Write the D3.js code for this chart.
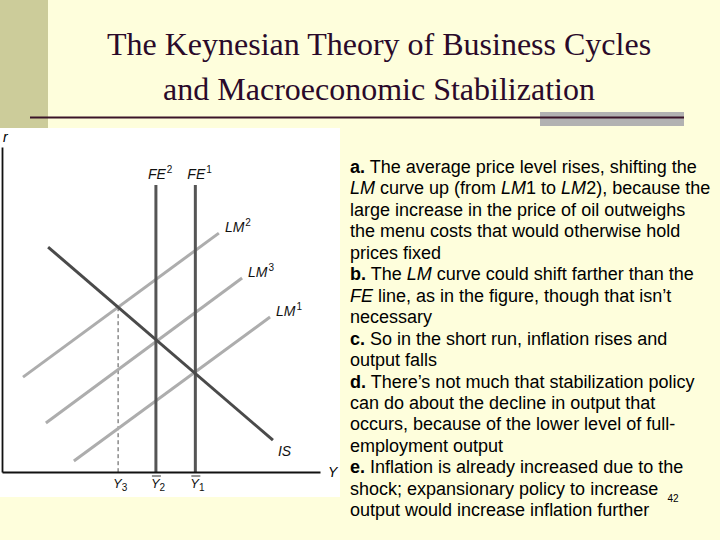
<!DOCTYPE html>
<html>
<head>
<meta charset="utf-8">
<script src="https://cdn.jsdelivr.net/npm/d3@7"></script>
<style>
  html, body { margin: 0; padding: 0; background: #fefedc; }
  svg { display: block; }
</style>
</head>
<body>
<div id="slide"></div>
<script>
// ---- data (diagram units 0..100) ----
const titleLines = ["The Keynesian Theory of Business Cycles", "and Macroeconomic Stabilization"];

// curves: [Y, r] end points
const isCurve = [[14.5, 69.2], [85.2, 9.8]];
const lmCurves = [
    { name: "LM", sup: "1", pts: [[22.6, 3.4], [84.3, 47.7]] },
    { name: "LM", sup: "2", pts: [[6.6, 29.2], [68.2, 73.5]] },
    { name: "LM", sup: "3", pts: [[13.8, 15.1], [75.5, 59.7]] }
];
const feLines = [
    { name: "FE", sup: "1", y: 60.8 },
    { name: "FE", sup: "2", y: 48.4 }
];
const feTop = 88.3;
const tickLabels = [
    { base: "Y", sub: "3", bar: false, key: "y3" },
    { base: "Y", sub: "2", bar: true, key: "fe2" },
    { base: "Y", sub: "1", bar: true, key: "fe1" }
];

// text block, each line is a list of [text, style]
const bodyLines = [
    [["a.", "b"], [" The average price level rises, shifting the", ""]],
    [["LM", "i"], [" curve up (from ", ""], ["LM", "i"], ["1 to ", ""], ["LM", "i"], ["2), because the", ""]],
    [["large increase in the price of oil outweighs", ""]],
    [["the menu costs that would otherwise hold", ""]],
    [["prices fixed", ""]],
    [["b.", "b"], [" The ", ""], ["LM", "i"], [" curve could shift farther than the", ""]],
    [["FE", "i"], [" line, as in the figure, though that isn\u2019t", ""]],
    [["necessary", ""]],
    [["c.", "b"], [" So in the short run, inflation rises and", ""]],
    [["output falls", ""]],
    [["d.", "b"], [" There\u2019s not much that stabilization policy", ""]],
    [["can do about the decline in output that", ""]],
    [["occurs, because of the lower level of full-", ""]],
    [["employment output", ""]],
    [["e.", "b"], [" Inflation is already increased due to the", ""]],
    [["shock; expansionary policy to increase", ""]],
    [["output would increase inflation further", ""]]
];
const pageNumber = "42";

// ---- layout ----
const W = 720, H = 540;
const sans = "'Liberation Sans', Arial, sans-serif";
const serif = "'Liberation Serif', 'Times New Roman', serif";

const svg = d3.select("#slide").append("svg")
    .attr("width", W).attr("height", H);

svg.append("rect").attr("width", W).attr("height", H).attr("fill", "#fefedc");

// decorations of the slide
svg.append("rect").attr("x", 0).attr("y", 0).attr("width", 48).attr("height", 128).attr("fill", "#cccc9a");
svg.append("rect").attr("x", 540).attr("y", 112).attr("width", 144).attr("height", 14).attr("fill", "#b2b2b2");
svg.append("line").attr("x1", 30).attr("x2", 684).attr("y1", 117.5).attr("y2", 117.5)
    .attr("stroke", "#3a1428").attr("stroke-width", 2);

// title
svg.append("g").selectAll("text").data(titleLines).join("text")
    .attr("x", 379)
    .attr("y", (d, i) => 55 + i * 45)
    .attr("text-anchor", "middle")
    .attr("font-family", serif)
    .attr("font-size", 32)
    .attr("fill", "#2a0a2a")
    .text(d => d);

// chart panel
svg.append("rect").attr("x", 0).attr("y", 128).attr("width", 340).attr("height", 369).attr("fill", "#ffffff");

const x = d3.scaleLinear().domain([0, 100]).range([2, 320]);
const y = d3.scaleLinear().domain([0, 100]).range([472, 147]);
const chart = svg.append("g").attr("font-family", sans);

const line = d3.line().x(d => x(d[0])).y(d => y(d[1]));

// intersection IS / LM2 gives Y3
function intersect(a, b) {
    const [[x1, y1], [x2, y2]] = a, [[x3, y3], [x4, y4]] = b;
    const m1 = (y2 - y1) / (x2 - x1), m2 = (y4 - y3) / (x4 - x3);
    const xi = (y3 - y1 + m1 * x1 - m2 * x3) / (m1 - m2);
    return [xi, y1 + m1 * (xi - x1)];
}
const y3Point = intersect(isCurve, lmCurves[1].pts);
const tickPos = { y3: y3Point[0], fe2: feLines[1].y, fe1: feLines[0].y };

// dashed guide
chart.append("line")
    .attr("x1", x(y3Point[0])).attr("x2", x(y3Point[0]))
    .attr("y1", y(y3Point[1])).attr("y2", y(0))
    .attr("stroke", "#222").attr("stroke-width", 0.8).attr("stroke-dasharray", "4,3");

// LM curves
chart.append("g").selectAll("path").data(lmCurves).join("path")
    .attr("d", d => line(d.pts))
    .attr("stroke", "#adadad").attr("stroke-width", 3).attr("fill", "none");

// FE lines
chart.append("g").selectAll("line").data(feLines).join("line")
    .attr("x1", d => x(d.y)).attr("x2", d => x(d.y))
    .attr("y1", y(feTop)).attr("y2", y(0))
    .attr("stroke", "#555555").attr("stroke-width", 3);

// IS curve
chart.append("path").attr("d", line(isCurve))
    .attr("stroke", "#4a4a4a").attr("stroke-width", 3).attr("fill", "none");

// axes (no ticks)
const xAxis = d3.axisBottom(x).tickValues([]).tickSizeOuter(0);
const yAxis = d3.axisLeft(y).tickValues([]).tickSizeOuter(0);
chart.append("g").attr("transform", `translate(0,${y(0)})`).call(xAxis)
    .select(".domain").attr("stroke", "#111").attr("stroke-width", 1.8);
chart.append("g").attr("transform", `translate(${x(0)},0)`).call(yAxis)
    .select(".domain").attr("stroke", "#111").attr("stroke-width", 1.8);

// axis names
chart.append("text").attr("x", x(0) + 1).attr("y", y(100) - 5)
    .attr("font-size", 14).attr("font-style", "italic").text("r");
chart.append("text").attr("x", x(100) + 8).attr("y", y(0) + 5)
    .attr("font-size", 14).attr("font-style", "italic").text("Y");

// curve labels with superscript
function supLabel(g, base, sup, px, py) {
    const t = g.append("text").attr("x", px).attr("y", py)
        .attr("font-size", 14).attr("fill", "#111");
    t.append("tspan").attr("font-style", "italic").text(base);
    t.append("tspan").attr("font-size", 10).attr("dx", 1).attr("dy", -6).text(sup);
}
lmCurves.forEach(d => {
    const end = d.pts[1];
    supLabel(chart, d.name, d.sup, x(end[0]) + 6, y(end[1]) - 1);
});
feLines.forEach(d => {
    supLabel(chart, d.name, d.sup, x(d.y) - 8, y(feTop) - 6);
});
chart.append("text")
    .attr("x", x(isCurve[1][0]) + 5).attr("y", y(isCurve[1][1]) + 16)
    .attr("font-size", 14).attr("font-style", "italic").attr("fill", "#111").text("IS");

// tick labels on Y axis
const ticks = chart.append("g").selectAll("g").data(tickLabels).join("g")
    .attr("transform", d => `translate(${x(tickPos[d.key])},${y(0) + 16})`);
const tt = ticks.append("text").attr("x", -5).attr("font-size", 13).attr("fill", "#111");
tt.append("tspan").attr("font-style", "italic").text(d => d.base);
tt.append("tspan").attr("font-size", 10).attr("dy", 3).text(d => d.sub);
ticks.filter(d => d.bar).append("line")
    .attr("x1", -4).attr("x2", 5).attr("y1", -12).attr("y2", -12)
    .attr("stroke", "#111").attr("stroke-width", 0.9);

// text block on the right
const body = svg.append("text")
    .attr("font-family", sans).attr("font-size", 18).attr("fill", "#000");
bodyLines.forEach((segs, i) => {
    segs.forEach((s, j) => {
        const ts = body.append("tspan").text(s[0]);
        if (j === 0) ts.attr("x", 350).attr("y", 173 + i * 21.45);
        if (s[1] === "b") ts.attr("font-weight", "bold");
        if (s[1] === "i") ts.attr("font-style", "italic");
    });
});

svg.append("text").attr("x", 673).attr("y", 502).attr("font-family", sans)
    .attr("font-size", 10).attr("text-anchor", "middle").text(pageNumber);
</script>
</body>
</html>
